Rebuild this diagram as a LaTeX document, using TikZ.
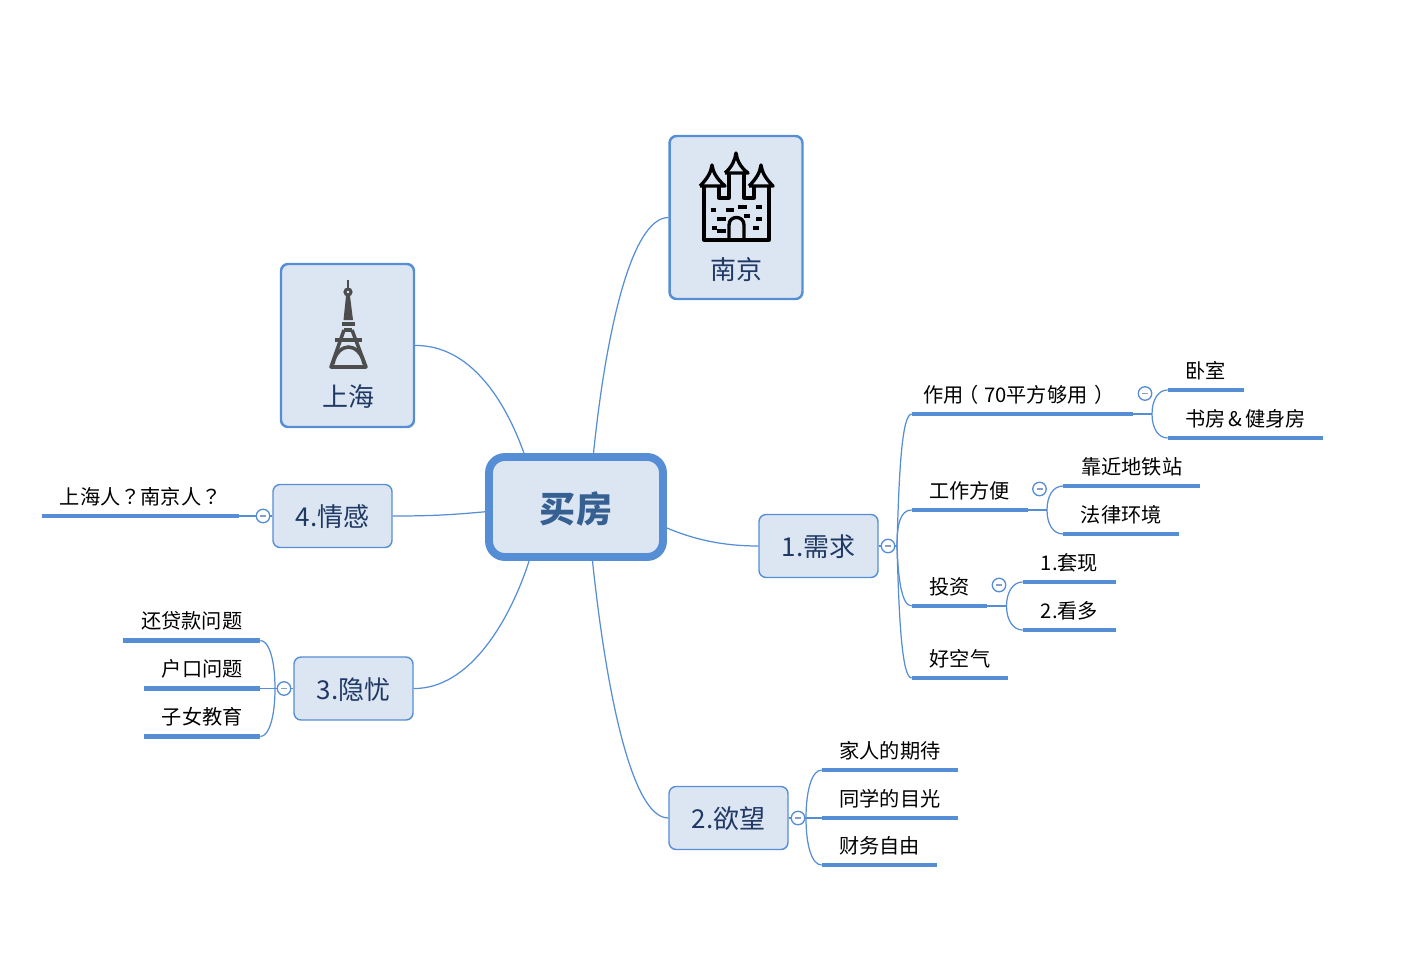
\documentclass[tikz,border=0pt]{standalone}
\usepackage{fontspec}
\usepackage{xcolor}
\newfontfamily\cjk{Noto Sans CJK SC}
\newfontfamily\cjktc{Noto Sans CJK TC}
\definecolor{mapblue}{HTML}{558ED5}
\definecolor{mapfill}{HTML}{DCE6F2}
\definecolor{maptext}{HTML}{1F3864}
\definecolor{roottext}{HTML}{376092}
\definecolor{foldmark}{HTML}{8A9CC8}
\definecolor{towergray}{HTML}{4D4D4D}
\tikzset{
    rootbox/.style={draw=mapblue, fill=mapfill, line width=4.5pt, rounded corners=9pt, inner sep=0pt, text depth=0pt,
        minimum width=3.48cm, minimum height=2cm, text=roottext, font=\cjk\bfseries\fontsize{20.5}{24}\selectfont},
    iconbox/.style={draw=mapblue, fill=mapfill, line width=1.4pt, rounded corners=4pt, inner sep=0pt, minimum width=2.66cm},
    topicbox/.style={draw=mapblue, fill=mapfill, line width=0.8pt, rounded corners=4pt, inner sep=0pt, text depth=0pt,
        minimum width=2.38cm, minimum height=1.26cm, text=maptext, font=\cjk\fontsize{14.8}{18}\selectfont},
    toplabel/.style={inner sep=0pt, text=maptext, font=\cjk\fontsize{14.8}{18}\selectfont},
    leaf/.style={inner sep=0pt, minimum height=0.76cm, anchor=south, font=\cjk\fontsize{11.5}{14}\selectfont},
    leafline/.style={draw=mapblue, line width=2.4pt},
    branch/.style={draw=mapblue, line width=0.7pt},
    fold/.style={circle, draw=mapblue, fill=white, line width=0.75pt, minimum size=0.27cm, inner sep=0pt,
        path picture={\draw[foldmark, line width=0.9pt] ([xshift=-0.06cm]path picture bounding box.center) -- ([xshift=0.06cm]path picture bounding box.center);}},
    castle/.style={line width=1.9pt, line join=round, black},
    tower/.style={line width=2pt, towergray},
}
\begin{document}
\begin{tikzpicture}[x=0.02cm, y=-0.02cm]
    \useasboundingbox (0,0) rectangle (1415,959);

    % Main boxes
    \node[rootbox] (root) at (576,507) {买房};
    \node[iconbox, minimum height=3.26cm] (nanjing) at (736,217.5) {};
    \node[iconbox, minimum height=3.26cm] (shanghai) at (347.5,345.5) {};
    \node[toplabel] (nanjingtext) at (736,269.5) {南京};
    \node[toplabel] (shanghaitext) at (348,396.5) {上海};
    \node[topicbox] (need) at (818.5,546) {1.需求};
    \node[topicbox] (desire) at (728.5,818) {2.欲望};
    \node[topicbox] (worry) at (353.5,688.5) {3.隐忧};
    \node[topicbox] (feel) at (332.5,516) {4.情感};

    % Leaves on the right
    \node[leaf, minimum width=4.41cm] (use) at (1022.3,414) {\kern-.3em作用\kern-.3em（\kern.3em70平方够用\kern.35em）};
    \node[leaf, minimum width=1.51cm] (bedroom) at (1205.75,390) {卧室};
    \node[leaf, minimum width=3.1cm] (study) at (1245.5,438) {书房\kern.15em\&\kern.15em健身房};
    \node[leaf, minimum width=2.31cm] (work) at (969.75,510) {工作方便};
    \node[leaf, minimum width=2.73cm] (metro) at (1131.75,486) {靠近地铁站};
    \node[leaf, minimum width=2.31cm] (law) at (1121.25,534) {法律环境};
    \node[leaf, minimum width=1.5cm] (invest) at (949.5,606) {投资};
    \node[leaf, minimum width=1.86cm] (cash) at (1069.5,582) {1.套现};
    \node[leaf, minimum width=1.86cm] (bull) at (1069.5,630) {2.看多};
    \node[leaf, minimum width=1.92cm] (air) at (960,678) {好空气};

    % Leaves at the bottom
    \node[leaf, minimum width=2.72cm] (family) at (890,770) {家人的期待};
    \node[leaf, minimum width=2.72cm] (mates) at (890,818) {同学的目光};
    \node[leaf, minimum width=2.3cm] (free) at (879.5,865) {财务自由};

    % Leaves on the left
    \node[leaf, minimum width=3.93cm] (people) at (140.75,516) {上海人{\cjktc ？}南京人{\cjktc ？}};
    \node[leaf, minimum width=2.73cm] (loan) at (191.75,640.5) {还贷款问题};
    \node[leaf, minimum width=2.31cm] (hukou) at (202.25,688.5) {户口问题};
    \node[leaf, minimum width=2.31cm] (school) at (202.25,736.5) {子女教育};

    \foreach \n in {use,bedroom,study,work,metro,law,invest,cash,bull,air,family,mates,free,people,loan,hukou,school}
        \draw[leafline] (\n.south west) -- (\n.south east);

    % Branches from the root
    \draw[branch] (root.72) .. controls (605,340) and (630,218) .. (nanjing.west);
    \draw[branch] (root.134) .. controls (505,400) and (470,345) .. (shanghai.east);
    \draw[branch] (root.183) .. controls (450,515) and (430,516) .. (feel.east);
    \draw[branch] (root.-13) .. controls (700,542) and (730,546) .. (need.west);
    \draw[branch] (root.229) .. controls (510,620) and (470,689) .. (worry.east);
    \draw[branch] (root.-73) .. controls (605,680) and (630,818) .. (desire.west);

    % Junctions
    \coordinate (needjoin) at (897,546);
    \coordinate (usejoin) at (1152,414);
    \coordinate (workjoin) at (1047,510);
    \coordinate (investjoin) at (1006.5,606);
    \coordinate (desirejoin) at (806,818);
    \coordinate (worryjoin) at (275,688.5);

    \draw[branch] (need.east) -- (needjoin);
    \draw[branch] (needjoin) .. controls (899,470) and (902,414) .. (use.south west);
    \draw[branch] (needjoin) .. controls (897,525) and (900,510) .. (work.south west);
    \draw[branch] (needjoin) .. controls (898,575) and (901,606) .. (invest.south west);
    \draw[branch] (needjoin) .. controls (899,620) and (902,678) .. (air.south west);

    \draw[branch] (use.south east) -- (usejoin);
    \draw[branch] (usejoin) .. controls (1152,400) and (1158,390) .. (bedroom.south west);
    \draw[branch] (usejoin) .. controls (1152,428) and (1158,438) .. (study.south west);

    \draw[branch] (work.south east) -- (workjoin);
    \draw[branch] (workjoin) .. controls (1047,496) and (1053,486) .. (metro.south west);
    \draw[branch] (workjoin) .. controls (1047,524) and (1053,534) .. (law.south west);

    \draw[branch] (invest.south east) -- (investjoin);
    \draw[branch] (investjoin) .. controls (1006.5,592) and (1013,582) .. (cash.south west);
    \draw[branch] (investjoin) .. controls (1006.5,620) and (1013,630) .. (bull.south west);

    \draw[branch] (desire.east) -- (desirejoin);
    \draw[branch] (desirejoin) .. controls (806,790) and (812,770) .. (family.south west);
    \draw[branch] (desirejoin) -- (mates.south west);
    \draw[branch] (desirejoin) .. controls (806,846) and (812,865) .. (free.south west);

    \draw[branch] (worry.west) -- (worryjoin);
    \draw[branch] (worryjoin) .. controls (275,660) and (269,640.5) .. (loan.south east);
    \draw[branch] (worryjoin) -- (hukou.south east);
    \draw[branch] (worryjoin) .. controls (275,717) and (269,736.5) .. (school.south east);

    \draw[branch] (feel.west) -- (people.south east);

    % Fold marks
    \node[fold] (foldneed) at (888,546) {};
    \node[fold] (folduse) at (1145,393.5) {};
    \node[fold] (foldwork) at (1039.5,489) {};
    \node[fold] (foldinvest) at (999,585) {};
    \node[fold] (folddesire) at (798,818) {};
    \node[fold] (foldworry) at (284,688.5) {};
    \node[fold] (foldfeel) at (263,516) {};

    % Castle
    \draw[castle] (704,186) -- (704,240) -- (769,240) -- (769,186);
    \draw[castle] (719,186) -- (719,198) -- (729,198) -- (729,173);
    \draw[castle] (754,186) -- (754,198) -- (744,198) -- (744,173);
    \draw[castle] (700,186) -- (725,186) .. controls (716,178) and (713,172) .. (712,165) .. controls (711,172) and (708,178) .. (700,186);
    \draw[castle] (749,186) -- (773,186) .. controls (765,178) and (762,172) .. (761,165) .. controls (760,172) and (757,178) .. (749,186);
    \draw[castle] (725,173) -- (748,173) .. controls (740,167) and (737,160) .. (736,153) .. controls (735,160) and (732,167) .. (725,173);
    \draw[castle] (729,240) -- (729,225) .. controls (729,215) and (744,215) .. (744,225) -- (744,240);
    \draw[castle] (711,210) -- (716,210) (726,210) -- (734,210) (738,207) -- (747,207) (756,207) -- (762,207);
    \draw[castle] (717,219) -- (726,219) (744,216) -- (750,216) (756,219) -- (762,219);
    \draw[castle] (712,228) -- (717,228) (717,231) -- (726,231) (753,228) -- (759,228);

    % Tower
    \draw[tower, line width=1.2pt] (348,280) -- (348,288);
    \draw[tower, line width=1.7pt] (348,292) circle (3);
    \fill[towergray] (346,296) -- (350,296) -- (353,320) -- (343.5,320) -- cycle;
    \draw[tower] (341.5,324) -- (354.5,324);
    \draw[tower] (344,330) -- (352,330);
    \draw[tower] (335,340) -- (362,340);
    \draw[tower, line join=round] (344,330) -- (331,367) -- (366,367) -- (352,330);
    \draw[tower] (333,364) .. controls (335,352) and (343,347) .. (348.5,347) .. controls (354,347) and (362,352) .. (364,364);
\end{tikzpicture}
\end{document}
